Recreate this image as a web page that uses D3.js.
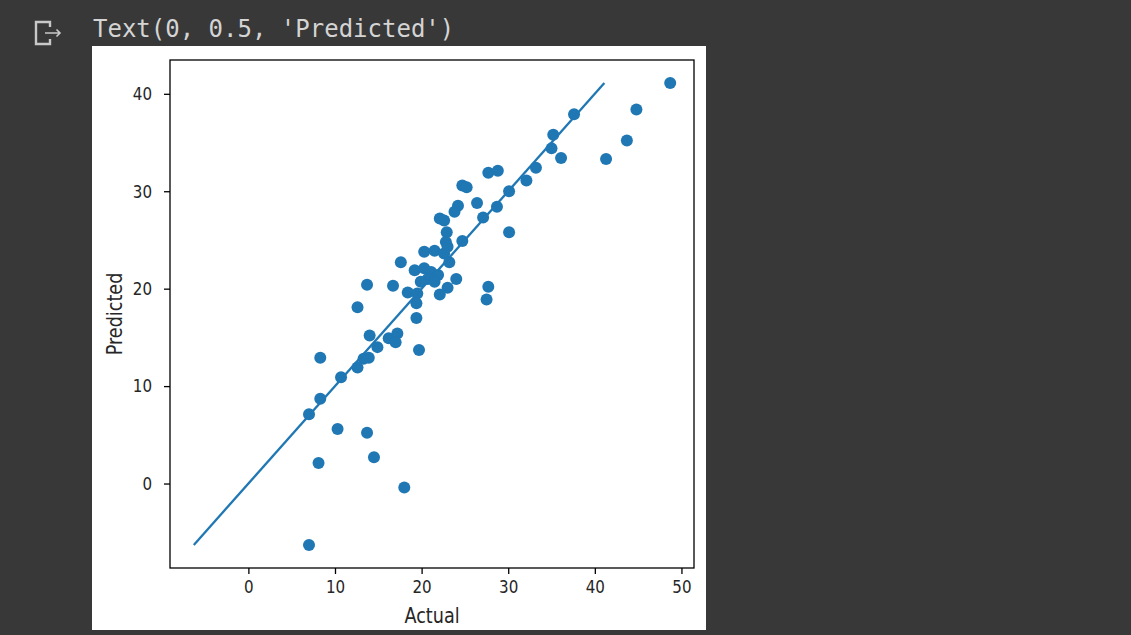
<!DOCTYPE html>
<html>
<head>
<meta charset="utf-8">
<script src="https://cdn.jsdelivr.net/npm/d3@7"></script>
<style>
  body { margin: 0; background: #383838; }
  svg { display: block; }
</style>
</head>
<body>
<svg id="chart" width="1131" height="635"></svg>
<script>
// values (actual vs predicted)
var actual = [48.7, 44.8, 43.7, 41.3, 37.6, 35.2, 35.0, 36.1, 33.2, 32.1, 30.1, 28.7, 27.1, 30.1, 24.7,
  27.7, 28.8, 24.7, 25.2, 26.4, 24.2, 23.8, 22.1, 22.6, 22.9, 22.8, 20.3, 21.5, 22.6, 23.2,
  17.6, 19.2, 20.3, 21.1, 21.9, 20.7, 21.5, 24.0, 23.0, 22.1, 27.7, 27.5, 16.7, 18.4, 19.5,
  19.4, 19.4, 13.7, 12.6, 14.0, 16.2, 17.2, 17.0, 14.9, 19.7, 8.3, 13.9, 13.3, 12.6, 10.7,
  8.3, 7.0, 10.3, 13.7, 14.5, 8.1, 18.0, 7.0, 23.0, 19.9];
var predicted = [41.1, 38.4, 35.2, 33.3, 37.9, 35.8, 34.4, 33.4, 32.4, 31.1, 30.0, 28.4, 27.3, 25.8, 24.9,
  31.9, 32.1, 30.6, 30.4, 28.8, 28.5, 27.9, 27.2, 27.0, 25.8, 24.8, 23.8, 23.9, 23.6, 22.7,
  22.7, 21.9, 22.1, 21.7, 21.4, 21.0, 20.7, 21.0, 20.1, 19.4, 20.2, 18.9, 20.3, 19.6, 19.5,
  18.5, 17.0, 20.4, 18.1, 15.2, 14.9, 15.4, 14.5, 14.0, 13.7, 12.9, 12.9, 12.8, 11.9, 10.9,
  8.7, 7.1, 5.6, 5.2, 2.7, 2.1, -0.4, -6.3, 24.3, 20.7];
var xTicks = [0, 10, 20, 30, 40, 50];
var yTicks = [0, 10, 20, 30, 40];
var outputText = "Text(0, 0.5, 'Predicted')";

var svg = d3.select("#chart");
var blue = "#1f77b4";
var font = "DejaVu Sans, sans-serif";
var squeeze = 0.84;  // the figure's text looks narrow in the screenshot

// cell output header: icon + repr text
svg.append("path")
  .attr("d", "M50,27 V22 H36 V44 H50 V39")
  .attr("fill", "none").attr("stroke", "#c8c8c8").attr("stroke-width", 2.4);
svg.append("path")
  .attr("d", "M45,33 H60 M56.5,29.5 L60,33 L56.5,36.5")
  .attr("fill", "none").attr("stroke", "#c8c8c8").attr("stroke-width", 1.6);
svg.append("text")
  .attr("x", 93).attr("y", 37)
  .attr("font-family", "DejaVu Sans Mono, monospace")
  .attr("font-size", 24)
  .attr("fill", "#d4d4d4")
  .text(outputText);

// figure canvas
svg.append("rect").attr("x", 92).attr("y", 46).attr("width", 614).attr("height", 584).attr("fill", "#fff");

var mLeft = 170, mRight = 694, mTop = 60, mBottom = 568;

// line from min to max prediction
var lo = d3.min(predicted), hi = d3.max(predicted);

function padded(vals) {
  var mn = d3.min(vals), mx = d3.max(vals), m = (mx - mn) * 0.05;
  return [mn - m, mx + m];
}
var x = d3.scaleLinear().domain(padded(actual.concat([lo, hi]))).range([mLeft, mRight]);
var y = d3.scaleLinear().domain(padded(predicted.concat([lo, hi]))).range([mBottom, mTop]);

var plot = svg.append("g");

plot.selectAll("circle")
  .data(actual)
  .enter()
  .append("circle")
  .attr("cx", function (d) { return x(d); })
  .attr("cy", function (d, i) { return y(predicted[i]); })
  .attr("r", 6)
  .attr("fill", blue);

plot.append("line")
  .attr("x1", x(lo)).attr("y1", y(lo))
  .attr("x2", x(hi)).attr("y2", y(hi))
  .attr("stroke", blue).attr("stroke-width", 2.3);

// axes
var xAxis = svg.append("g")
  .attr("transform", "translate(0," + mBottom + ")")
  .call(d3.axisBottom(x).tickValues(xTicks).tickSize(6).tickPadding(6).tickFormat(d3.format("d")));
var yAxis = svg.append("g")
  .attr("transform", "translate(" + mLeft + ",0)")
  .call(d3.axisLeft(y).tickValues(yTicks).tickSize(6).tickPadding(12).tickFormat(d3.format("d")));

[xAxis, yAxis].forEach(function (g) {
  g.select(".domain").remove();
  g.selectAll(".tick line").attr("stroke", "#000").attr("stroke-width", 1.3);
  g.selectAll(".tick text")
    .attr("font-family", font).attr("font-size", 18).attr("fill", "#262626")
    .attr("x", function () { return (+d3.select(this).attr("x") || 0) / squeeze; })
    .attr("transform", "scale(" + squeeze + ",1)");
});

// frame
svg.append("rect")
  .attr("x", mLeft).attr("y", mTop).attr("width", mRight - mLeft).attr("height", mBottom - mTop)
  .attr("fill", "none").attr("stroke", "#000").attr("stroke-width", 1.3);

svg.append("text")
  .attr("transform", "translate(" + (mLeft + mRight) / 2 + ",623) scale(" + squeeze + ",1)")
  .attr("text-anchor", "middle")
  .attr("font-family", font).attr("font-size", 21).attr("fill", "#262626")
  .text("Actual");
svg.append("text")
  .attr("transform", "translate(122," + (mTop + mBottom) / 2 + ") rotate(-90) scale(" + squeeze + ",1)")
  .attr("text-anchor", "middle")
  .attr("font-family", font).attr("font-size", 21).attr("fill", "#262626")
  .text("Predicted");
</script>
</body>
</html>
